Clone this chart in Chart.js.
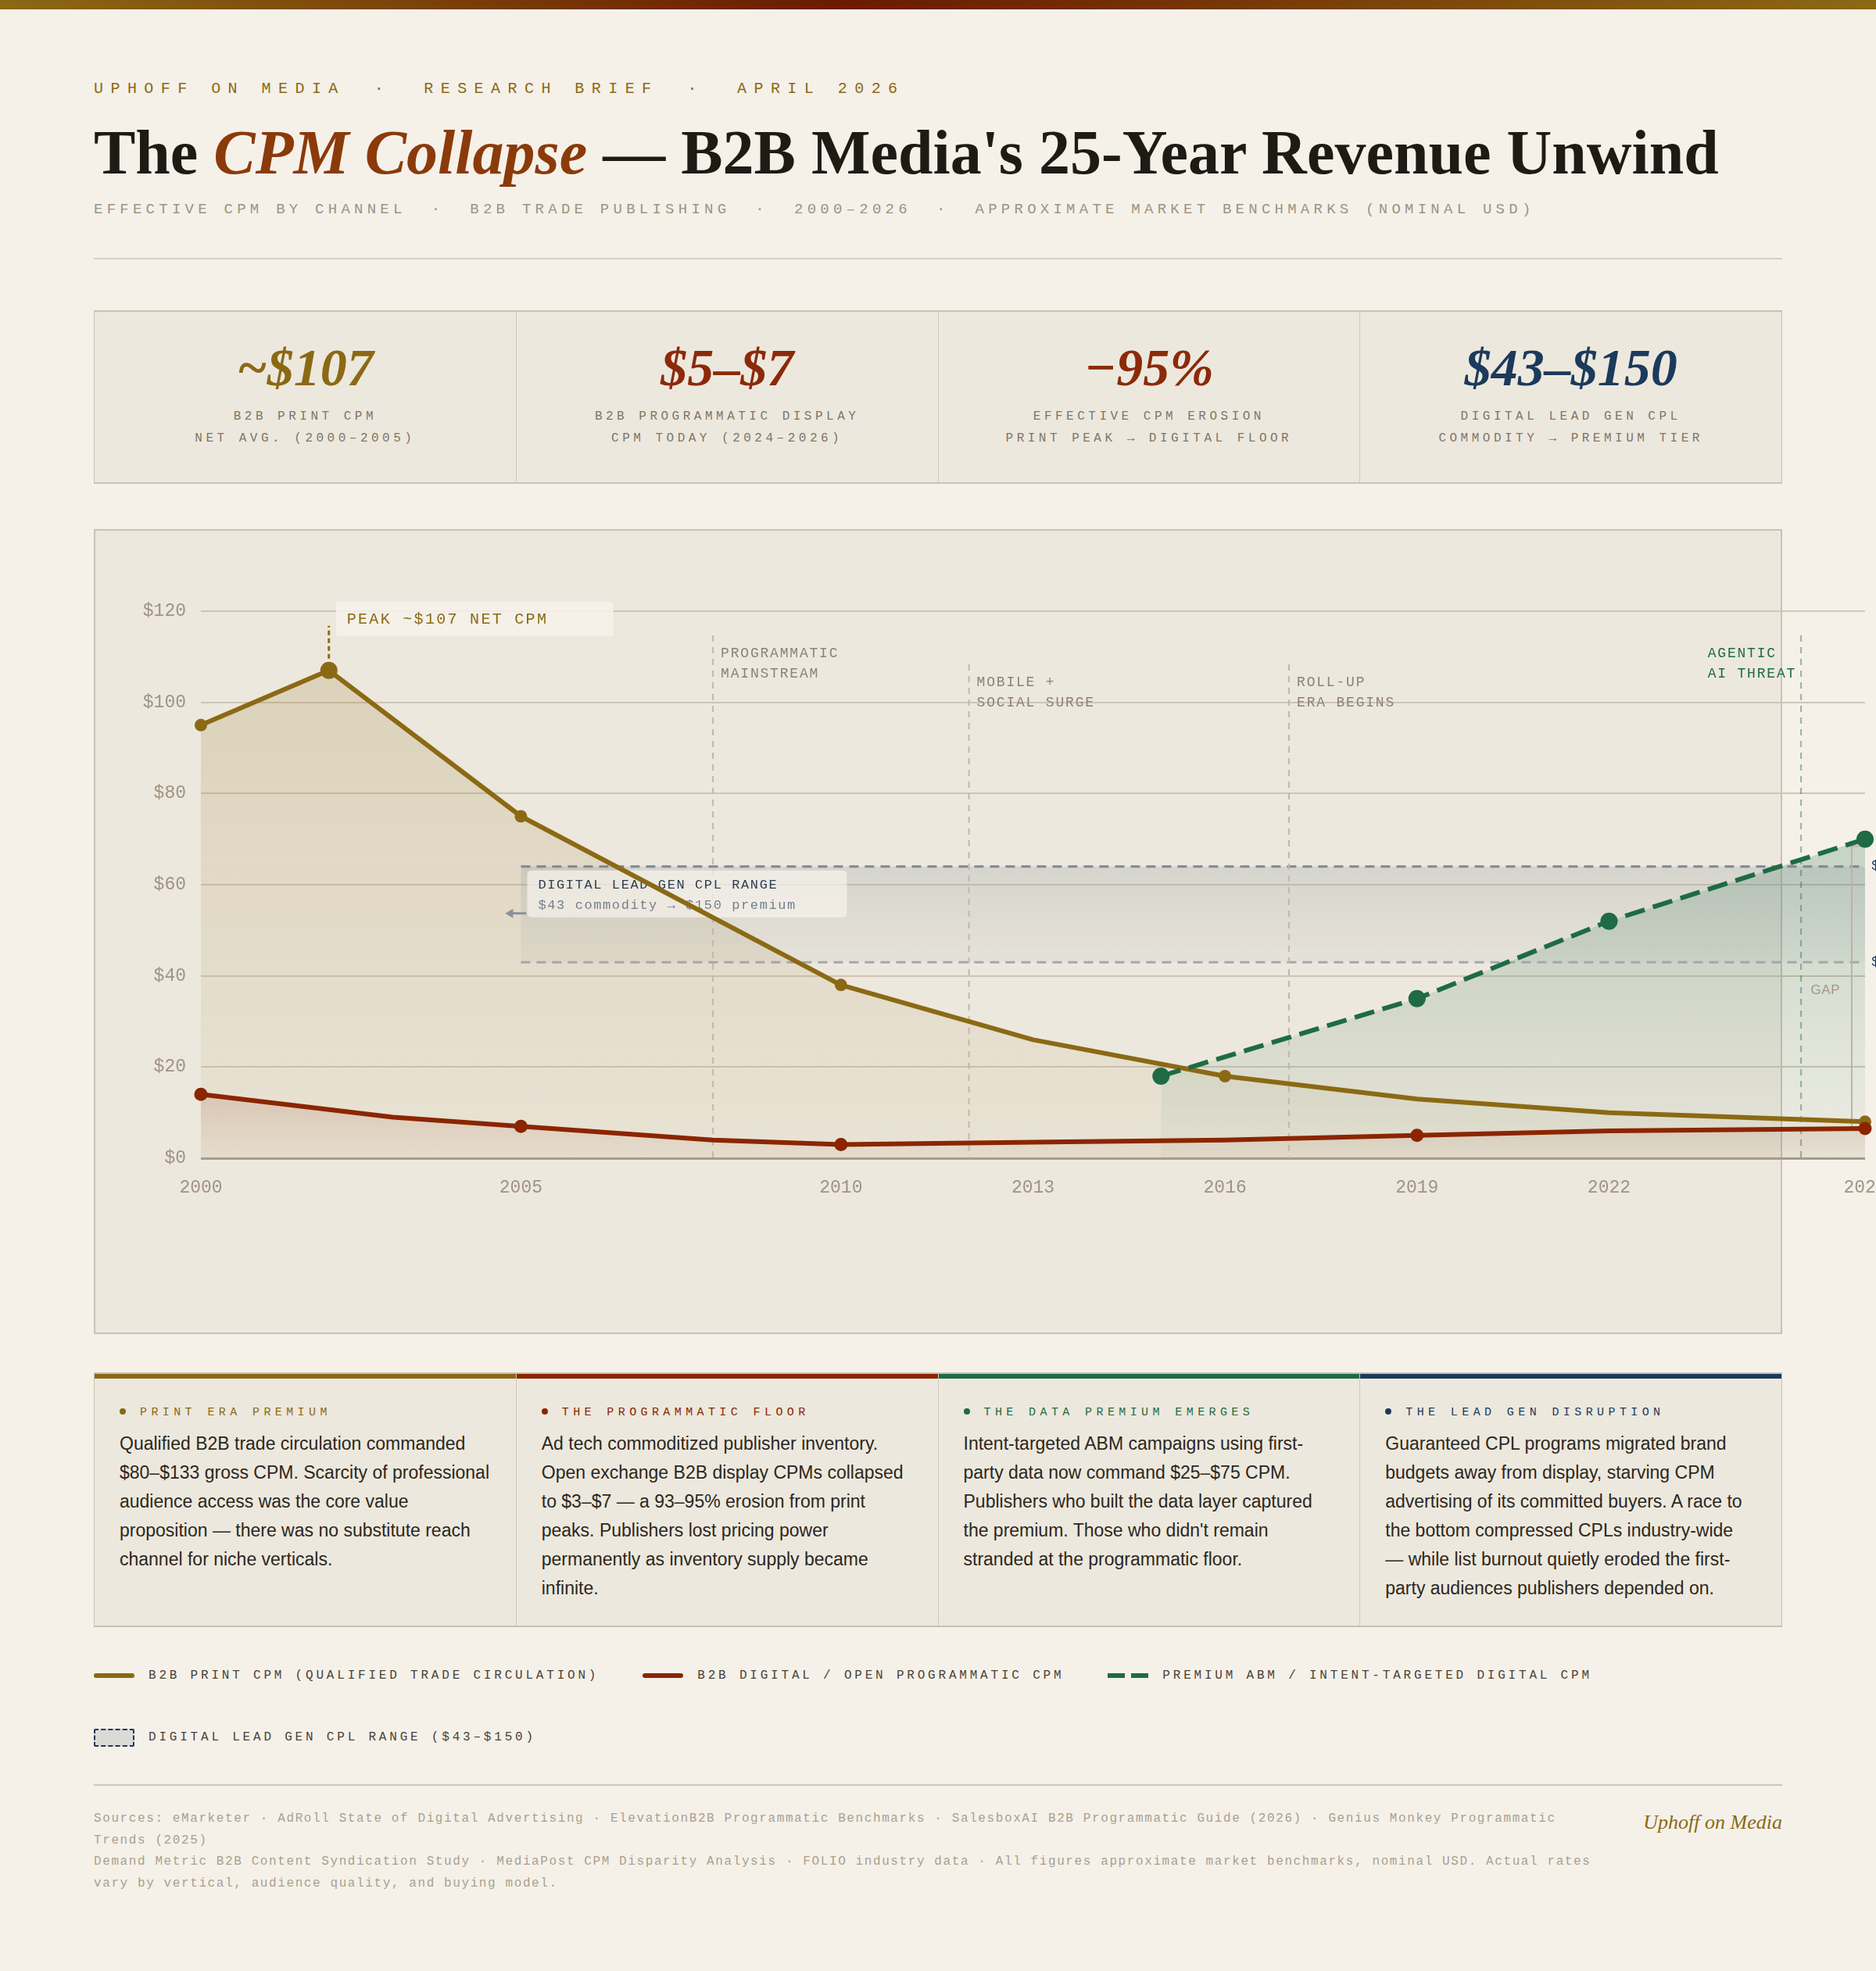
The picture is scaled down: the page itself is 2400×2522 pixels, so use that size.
<!DOCTYPE html>
<html>
<head>
<meta charset="utf-8">
<title>The CPM Collapse</title>
<script src="https://cdn.jsdelivr.net/npm/chart.js@4.4.1/dist/chart.umd.min.js"></script>
<style>
  html, body { margin: 0; padding: 0; overflow: hidden; }
  body { background: #f5f1e9; font-family: "Liberation Mono", monospace; color: #1e1a14; }
  .page { position: relative; width: 2400px; height: 2522px; overflow: hidden; }
  .topbar { height: 12px; background: linear-gradient(90deg, #8b6914 0%, #6b1a00 45%, #8b6914 100%); }
  .wrap { position: relative; margin-left: 120px; width: 2160px; }
  .eyebrow { margin-top: 90px; font-size: 20px; line-height: 24px; letter-spacing: 9.45px; color: #8b6914; white-space: nowrap; }
  .eyebrow .sep { margin: 0 42px 0 37px; }
  h1 { margin: 29px 0 0; font-family: "Liberation Serif", serif; font-weight: 700; font-size: 80px; line-height: 80px; letter-spacing: 0; color: #1e1a14; white-space: nowrap; }
  h1 em { color: #8b3a0a; }
  .sub { margin-top: 21px; font-size: 19px; line-height: 24px; letter-spacing: 5.25px; color: #9d9384; white-space: nowrap; }
  .sub .sep { margin: 0 33px 0 32px; }
  .rule { margin-top: 50px; height: 2px; background: #d8cfc1; }
  .kpis { margin-top: 65px; display: flex; height: 222px; box-sizing: border-box; border: 2px solid #cac1b3; border-left-width: 1px; border-right-width: 1px; background: #ede8dd; }
  .kpi { flex: 1; text-align: center; border-left: 1px solid #d3cabc; }
  .kpi:first-child { border-left: none; }
  .kpi .num { margin-top: 36.7px; font-family: "Liberation Serif", serif; font-style: italic; font-weight: 700; font-size: 68px; line-height: 68px; }
  .kpi .lab { margin-top: 15.8px; font-size: 16px; line-height: 28px; letter-spacing: 4.5px; color: #7f7568; }
  .panel { position: relative; margin-top: 58px; height: 1030px; box-sizing: border-box; border: 2px solid #cbc2b4; background: #ede8dd; }
  .chartbox { position: absolute; left: 18px; top: 0; width: 2306px; height: 863px; }
  .cards { margin-top: 49px; display: flex; height: 326px; box-sizing: border-box; border: 2px solid #cac1b3; border-left-width: 1px; border-right-width: 1px; background: #ede8dd; }
  .card { flex: 1; position: relative; border-left: 1px solid #d3cabc; padding: 40px 0 0 32px; }
  .card:first-child { border-left: none; }
  .card .bar { position: absolute; left: 0; right: 0; top: 0; height: 6px; }
  .card h3 { margin: 0; font-weight: 400; font-size: 15px; line-height: 20px; letter-spacing: 5.4px; white-space: nowrap; }
  .card h3 .dot { display: inline-block; width: 8px; height: 8px; border-radius: 50%; margin: 0 18px 2px 0; vertical-align: middle; }
  .card p { margin: 11px 0 0; width: 473.6px; font-family: "Liberation Sans", Arial, sans-serif; font-size: 23px; line-height: 37px; color: #2b2720; }
  .legend { margin-top: 50px; display: flex; flex-wrap: wrap; column-gap: 56px; row-gap: 55px; }
  .li { display: flex; align-items: center; font-size: 16px; line-height: 24px; letter-spacing: 3.8px; color: #4a4238; white-space: nowrap; }
  .sw { width: 52px; height: 6px; border-radius: 3px; margin-right: 18px; flex: none; }
  .sw.dash { border-radius: 0; background: repeating-linear-gradient(90deg, #1e6b45 0 22px, transparent 22px 30px); }
  .sw.box { height: 23px; box-sizing: border-box; border: 2px dashed #1b3a5c; border-radius: 2px; background: #dadad6; }
  .rule2 { margin-top: 48px; height: 2px; background: #cfc6b8; }
  .footer { margin-top: 29px; display: flex; justify-content: space-between; align-items: flex-start; }
  .footer .src { width: 1930px; font-size: 16px; line-height: 27.6px; letter-spacing: 1.6px; color: #ab9f90; }
  .footer .brand { margin-top: 4px; font-family: "Liberation Serif", serif; font-style: italic; font-size: 26px; line-height: 28px; color: #8b6914; white-space: nowrap; }
</style>
</head>
<body>
<div class="page">
<div class="topbar"></div>
<div class="wrap">
  <div class="eyebrow">UPHOFF ON MEDIA<span class="sep">·</span>RESEARCH BRIEF<span class="sep">·</span>APRIL 2026</div>
  <h1>The <em>CPM Collapse</em> — B2B Media's 25-Year Revenue Unwind</h1>
  <div class="sub">EFFECTIVE CPM BY CHANNEL<span class="sep">·</span>B2B TRADE PUBLISHING<span class="sep">·</span>2000–2026<span class="sep">·</span>APPROXIMATE MARKET BENCHMARKS (NOMINAL USD)</div>
  <div class="rule"></div>

  <div class="kpis">
    <div class="kpi"><div class="num" style="color:#8b6914">~$107</div><div class="lab">B2B PRINT CPM<br>NET AVG. (2000–2005)</div></div>
    <div class="kpi"><div class="num" style="color:#8b2a0a">$5–$7</div><div class="lab">B2B PROGRAMMATIC DISPLAY<br>CPM TODAY (2024–2026)</div></div>
    <div class="kpi"><div class="num" style="color:#8b2a0a">−95%</div><div class="lab">EFFECTIVE CPM EROSION<br>PRINT PEAK → DIGITAL FLOOR</div></div>
    <div class="kpi"><div class="num" style="color:#1b3a5c">$43–$150</div><div class="lab">DIGITAL LEAD GEN CPL<br>COMMODITY → PREMIUM TIER</div></div>
  </div>

  <div class="panel">
    <div class="chartbox"><canvas id="cpmChart"></canvas></div>
  </div>

  <div class="cards">
    <div class="card"><div class="bar" style="background:#8b6914"></div>
      <h3 style="color:#8b6914"><span class="dot" style="background:#8b6914"></span>PRINT ERA PREMIUM</h3>
      <p>Qualified B2B trade circulation commanded $80–$133 gross CPM. Scarcity of professional audience access was the core value proposition — there was no substitute reach channel for niche verticals.</p></div>
    <div class="card"><div class="bar" style="background:#8b2500"></div>
      <h3 style="color:#8b2500"><span class="dot" style="background:#8b2500"></span>THE PROGRAMMATIC FLOOR</h3>
      <p>Ad tech commoditized publisher inventory. Open exchange B2B display CPMs collapsed to $3–$7 — a 93–95% erosion from print peaks. Publishers lost pricing power permanently as inventory supply became infinite.</p></div>
    <div class="card"><div class="bar" style="background:#1e6b45"></div>
      <h3 style="color:#1e6b45"><span class="dot" style="background:#1e6b45"></span>THE DATA PREMIUM EMERGES</h3>
      <p>Intent-targeted ABM campaigns using first-party data now command $25–$75 CPM. Publishers who built the data layer captured the premium. Those who didn't remain stranded at the programmatic floor.</p></div>
    <div class="card"><div class="bar" style="background:#1b3a5c"></div>
      <h3 style="color:#1b3a5c"><span class="dot" style="background:#1b3a5c"></span>THE LEAD GEN DISRUPTION</h3>
      <p>Guaranteed CPL programs migrated brand budgets away from display, starving CPM advertising of its committed buyers. A race to the bottom compressed CPLs industry-wide — while list burnout quietly eroded the first-party audiences publishers depended on.</p></div>
  </div>

  <div class="legend">
    <div class="li"><span class="sw" style="background:#8b6914"></span>B2B PRINT CPM (QUALIFIED TRADE CIRCULATION)</div>
    <div class="li"><span class="sw" style="background:#8b2500"></span>B2B DIGITAL / OPEN PROGRAMMATIC CPM</div>
    <div class="li"><span class="sw dash"></span>PREMIUM ABM / INTENT-TARGETED DIGITAL CPM</div>
    <div class="li"><span class="sw box"></span>DIGITAL LEAD GEN CPL RANGE ($43–$150)</div>
  </div>

  <div class="rule2"></div>
  <div class="footer">
    <div class="src">Sources: eMarketer · AdRoll State of Digital Advertising · ElevationB2B Programmatic Benchmarks · SalesboxAI B2B Programmatic Guide (2026) · Genius Monkey Programmatic Trends (2025)<br>Demand Metric B2B Content Syndication Study · MediaPost CPM Disparity Analysis · FOLIO industry data · All figures approximate market benchmarks, nominal USD. Actual rates vary by vertical, audience quality, and buying model.</div>
    <div class="brand">Uphoff on Media</div>
  </div>
</div>
</div>

<script>
// --- data ---
const printYears = [2000, 2002, 2005, 2010, 2013, 2016, 2019, 2022, 2026];
const printCpm   = [95, 107, 75, 38, 26, 18, 13, 10, 8];
const printMarked = [2000, 2002, 2005, 2010, 2016, 2026];

const digitalYears = [2000, 2003, 2005, 2008, 2010, 2013, 2016, 2019, 2022, 2026];
const digitalCpm   = [14, 9, 7, 4, 3, 3.5, 4, 5, 6, 6.5];
const digitalMarked = [2000, 2005, 2010, 2019, 2026];

const abmYears = [2015, 2019, 2022, 2026];
const abmCpm   = [18, 35, 52, 70];

const xTickYears = [2000, 2005, 2010, 2013, 2016, 2019, 2022, 2026];
const yTickValues = [0, 20, 40, 60, 80, 100, 120];

const cplStartYear = 2005;
const cplRange = [43, 64];
const cplRangeLabels = ['$43', '$150'];

const peakYear = 2002;
const peakLabel = 'PEAK ~$107 NET CPM';

const eventYears = [2008, 2012, 2017, 2025];
const eventLabels = [
  ['PROGRAMMATIC', 'MAINSTREAM'],
  ['MOBILE +', 'SOCIAL SURGE'],
  ['ROLL-UP', 'ERA BEGINS'],
  ['AGENTIC', 'AI THREAT']
];

const GOLD = '#8b6914', RED = '#8b2500', GREEN = '#1e6b45', NAVY = '#1b3a5c';
const MONO = '"Liberation Mono", monospace';

function toPoints(xs, ys) {
  return xs.map((x, i) => ({ x: x, y: ys[i] }));
}

function vGradient(rgb, topValue, a1, a2) {
  return function (c) {
    const chart = c.chart;
    const area = chart.chartArea;
    if (!area) return 'rgba(' + rgb + ',' + a1 + ')';
    const y = chart.scales.y;
    const g = chart.ctx.createLinearGradient(0, y.getPixelForValue(topValue), 0, area.bottom);
    g.addColorStop(0, 'rgba(' + rgb + ',' + a1 + ')');
    g.addColorStop(1, 'rgba(' + rgb + ',' + a2 + ')');
    return g;
  };
}

function roundRect(ctx, x, y, w, h, r) {
  ctx.beginPath();
  ctx.moveTo(x + r, y);
  ctx.arcTo(x + w, y, x + w, y + h, r);
  ctx.arcTo(x + w, y + h, x, y + h, r);
  ctx.arcTo(x, y + h, x, y, r);
  ctx.arcTo(x, y, x + w, y, r);
  ctx.closePath();
}

function seg(ctx, x1, y1, x2, y2) {
  ctx.beginPath();
  ctx.moveTo(x1, y1);
  ctx.lineTo(x2, y2);
  ctx.stroke();
}

const eventRow = [0, 1, 1, 0];

const annotations = {
  id: 'annotations',
  beforeDatasetsDraw(chart) {
    const ctx = chart.ctx, a = chart.chartArea, x = chart.scales.x, y = chart.scales.y;
    ctx.save();

    // lead gen CPL band
    const bx = x.getPixelForValue(cplStartYear);
    const yTop = y.getPixelForValue(cplRange[1]);
    const yBot = y.getPixelForValue(cplRange[0]);
    const g = ctx.createLinearGradient(0, yTop, 0, yBot);
    g.addColorStop(0, 'rgba(140,150,160,0.24)');
    g.addColorStop(1, 'rgba(140,150,160,0.07)');
    ctx.fillStyle = g;
    roundRect(ctx, bx, yTop, a.right - bx, yBot - yTop, 4);
    ctx.fill();
    ctx.lineWidth = 3;
    ctx.setLineDash([12, 8]);
    ctx.strokeStyle = '#7b8998';
    seg(ctx, bx, yTop, a.right - 4, yTop);
    ctx.strokeStyle = '#a3a8ad';
    seg(ctx, bx, yBot, a.right - 4, yBot);

    // event markers
    ctx.lineWidth = 2;
    ctx.setLineDash([8, 7]);
    ctx.font = '18px ' + MONO;
    ctx.letterSpacing = '1.8px';
    ctx.textBaseline = 'middle';
    ctx.textAlign = 'left';
    eventYears.forEach((yr, i) => {
      const px = x.getPixelForValue(yr);
      const last = i === eventYears.length - 1;
      const top = a.top + (eventRow[i] ? 68 : 31);
      ctx.strokeStyle = last ? 'rgba(30,107,69,0.45)' : '#c2b8a9';
      seg(ctx, px, top, px, a.bottom);
      ctx.fillStyle = last ? GREEN : '#8c8275';
      const w = Math.max(...eventLabels[i].map(t => ctx.measureText(t).width));
      const tx = last ? px - 6 - w : px + 10;
      eventLabels[i].forEach((t, j) => {
        ctx.fillText(t, tx, top + 23 + j * 26);
      });
    });

    // band label box
    ctx.setLineDash([]);
    const lx = bx + 8, ly = yTop + 5;
    ctx.fillStyle = 'rgba(246,242,235,0.72)';
    roundRect(ctx, lx, ly, 409, 60, 5);
    ctx.fill();
    ctx.font = '17px ' + MONO;
    ctx.letterSpacing = '1.6px';
    ctx.textAlign = 'left';
    ctx.fillStyle = '#2b3d50';
    ctx.fillText('DIGITAL LEAD GEN CPL RANGE', lx + 14, ly + 19);
    ctx.fillStyle = '#737f8b';
    ctx.fillText('$43 commodity → $150 premium', lx + 14, ly + 45);
    // small pointer arrow left of the box
    ctx.strokeStyle = '#8a939b';
    ctx.fillStyle = '#8a939b';
    ctx.lineWidth = 3;
    seg(ctx, lx - 1, ly + 55, lx - 20, ly + 55);
    ctx.beginPath();
    ctx.moveTo(lx - 28, ly + 55);
    ctx.lineTo(lx - 18, ly + 49);
    ctx.lineTo(lx - 18, ly + 61);
    ctx.closePath();
    ctx.fill();

    // gap bracket at the right edge
    const gx = x.getPixelForValue(abmYears[abmYears.length - 1]) - 17;
    const gTop = y.getPixelForValue(abmCpm[abmCpm.length - 1]) + 9;
    const gBot = y.getPixelForValue(digitalCpm[digitalCpm.length - 1]);
    ctx.strokeStyle = '#bdb3a4';
    ctx.lineWidth = 2;
    seg(ctx, gx, gTop, gx, gBot);
    seg(ctx, gx - 9, gTop, gx + 9, gTop);
    seg(ctx, gx - 9, gBot, gx + 9, gBot);
    ctx.fillStyle = '#a39785';
    ctx.font = '17px "Liberation Sans", sans-serif';
    ctx.letterSpacing = '0.5px';
    ctx.textAlign = 'right';
    ctx.fillText('GAP', gx - 15, (gTop + gBot) / 2 + 4);

    ctx.restore();
  },
  afterDatasetsDraw(chart) {
    const ctx = chart.ctx, a = chart.chartArea, x = chart.scales.x, y = chart.scales.y;
    ctx.save();
    // peak callout
    const px = x.getPixelForValue(peakYear);
    const py = y.getPixelForValue(printCpm[printYears.indexOf(peakYear)]);
    ctx.strokeStyle = GOLD;
    ctx.lineWidth = 3;
    ctx.setLineDash([6, 4]);
    seg(ctx, px, py - 15, px, py - 57);
    ctx.setLineDash([]);
    ctx.fillStyle = 'rgba(246,242,235,0.85)';
    roundRect(ctx, px + 9, py - 88, 355, 44, 4);
    ctx.fill();
    ctx.font = '20px ' + MONO;
    ctx.letterSpacing = '2.3px';
    ctx.fillStyle = GOLD;
    ctx.textAlign = 'left';
    ctx.textBaseline = 'middle';
    ctx.fillText(peakLabel, px + 23, py - 65);

    // band end labels
    ctx.font = '18px ' + MONO;
    ctx.letterSpacing = '1px';
    ctx.fillStyle = NAVY;
    ctx.fillText(cplRangeLabels[1], a.right + 8, y.getPixelForValue(cplRange[1]));
    ctx.fillText(cplRangeLabels[0], a.right + 8, y.getPixelForValue(cplRange[0]));
    ctx.restore();
  }
};

Chart.defaults.font.family = MONO;

new Chart(document.getElementById('cpmChart'), {
  type: 'line',
  data: {
    datasets: [
      {
        label: 'Premium ABM / intent-targeted digital CPM',
        data: toPoints(abmYears, abmCpm),
        order: 1,
        borderColor: GREEN,
        borderWidth: 6,
        borderDash: [26, 11],
        backgroundColor: vGradient('30,107,69', 70, 0.22, 0.03),
        fill: 'origin',
        pointRadius: 11,
        pointBackgroundColor: GREEN,
        pointBorderWidth: 0,
        tension: 0,
        clip: false
      },
      {
        label: 'B2B digital / open programmatic CPM',
        data: toPoints(digitalYears, digitalCpm),
        order: 2,
        borderColor: RED,
        borderWidth: 6,
        borderJoinStyle: 'round',
        backgroundColor: vGradient('139,37,0', 14, 0.14, 0.03),
        fill: 'origin',
        pointRadius: c => digitalMarked.includes(c.raw.x) ? 8.5 : 0,
        pointBackgroundColor: RED,
        pointBorderWidth: 0,
        tension: 0,
        clip: false
      },
      {
        label: 'B2B print CPM',
        data: toPoints(printYears, printCpm),
        order: 3,
        borderColor: GOLD,
        borderWidth: 6,
        borderJoinStyle: 'round',
        backgroundColor: vGradient('139,105,20', 107, 0.17, 0.04),
        fill: 'origin',
        pointRadius: c => printMarked.includes(c.raw.x) ? (c.raw.x === peakYear ? 11 : 8) : 0,
        pointBackgroundColor: GOLD,
        pointBorderWidth: 0,
        tension: 0,
        clip: false
      }
    ]
  },
  options: {
    responsive: true,
    maintainAspectRatio: false,
    animation: false,
    events: [],
    layout: { padding: { top: 103, right: 60, bottom: 0, left: 0 } },
    plugins: {
      legend: { display: false },
      tooltip: { enabled: false },
      filler: { drawTime: 'beforeDatasetsDraw' }
    },
    scales: {
      x: {
        type: 'linear',
        min: 2000,
        max: 2026,
        afterBuildTicks: s => { s.ticks = xTickYears.map(v => ({ value: v })); },
        afterFit: s => { s.height = 60; },
        grid: { display: false, drawTicks: false },
        border: { display: false },
        ticks: { color: '#a09383', font: { size: 23 }, padding: 24, callback: v => String(v), maxRotation: 0, autoSkip: false }
      },
      y: {
        min: 0,
        max: 120,
        afterBuildTicks: s => { s.ticks = yTickValues.map(v => ({ value: v })); },
        afterFit: s => { s.width = 117; },
        grid: {
          drawTicks: false,
          color: c => c.tick.value === 0 ? '#a99d8d' : '#cfc5b5',
          lineWidth: c => c.tick.value === 0 ? 3 : 2
        },
        border: { display: false },
        ticks: { color: '#a09383', font: { size: 23 }, padding: 19, callback: v => '$' + v }
      }
    }
  },
  plugins: [annotations]
});
</script>
</body>
</html>
